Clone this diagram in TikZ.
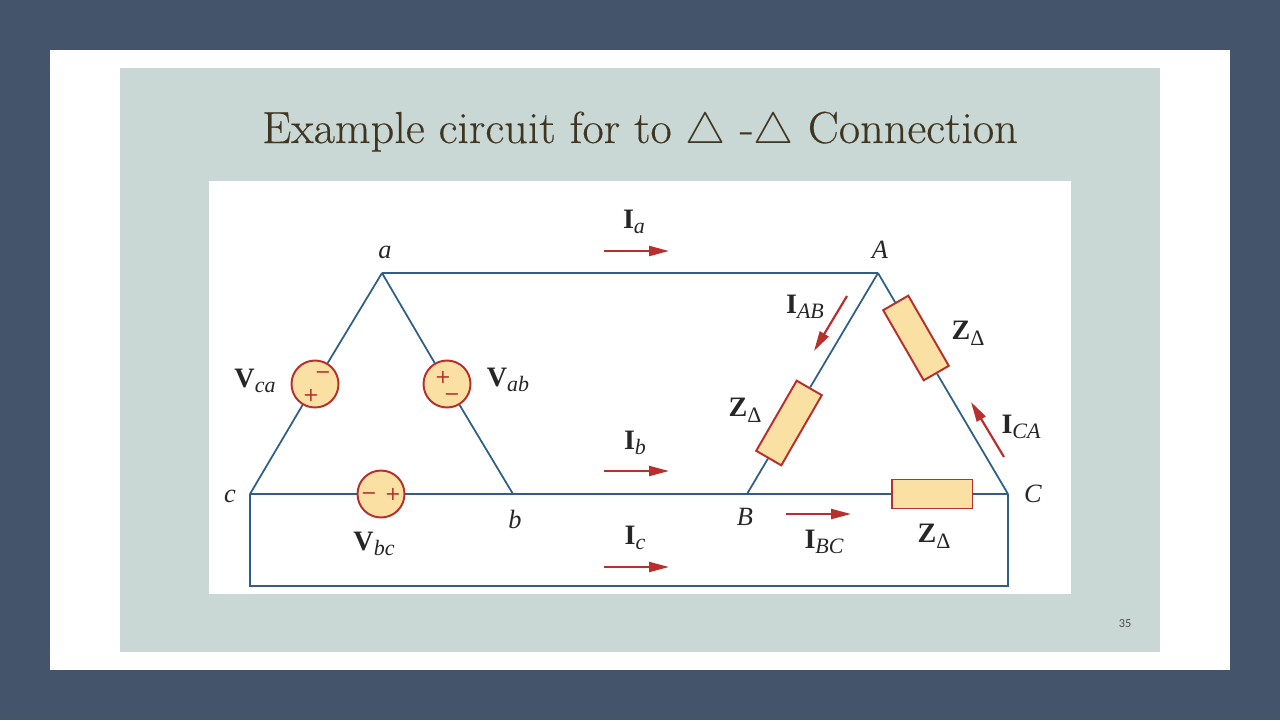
\documentclass[tikz,border=0pt]{standalone}
\usepackage{fontspec}
\usetikzlibrary{arrows.meta}
\newfontfamily\titlefont[FakeBold=0.3]{Latin Modern Roman}
\newfontfamily\labfont{Liberation Serif}
\newfontfamily\numfont{Carlito}
\newfontfamily\signfont{DejaVu Sans}
\definecolor{slide}{HTML}{44546A}
\definecolor{panel}{HTML}{C9D8D5}
\definecolor{titlecol}{HTML}{403520}
\definecolor{wire}{HTML}{2F5F85}
\definecolor{redcol}{HTML}{B8302E}
\definecolor{boxfill}{HTML}{FBE0A3}
\newcommand{\lab}[2]{{\fontsize{16}{16}\selectfont\bfseries #1}\raisebox{-.32em}{\fontsize{12.5}{12.5}\selectfont\itshape #2}}
\newcommand{\zlab}{{\fontsize{16}{16}\selectfont\bfseries Z}\raisebox{-.32em}{\fontsize{12.5}{12.5}\selectfont Δ}}
\tikzset{
    wireline/.style={draw=wire, line width=1pt},
    source/.style={circle, draw=redcol, fill=boxfill, line width=1.12pt, minimum size=.94cm, inner sep=0pt},
    imped/.style={rectangle, draw=redcol, fill=boxfill, line width=1.12pt, minimum width=1.62cm, minimum height=.58cm, inner sep=0pt},
    sign/.style={text=redcol, inner sep=0pt, font=\signfont\fontsize{11}{11}\selectfont},
    pin/.style={inner sep=0pt, text=black!85, font=\labfont\itshape\fontsize{15}{15}\selectfont},
    tag/.style={inner sep=0pt, text=black!85, font=\labfont},
    current/.style={draw=redcol, line width=1.25pt, -{Triangle[length=.4cm,width=.2cm]}}
}
\begin{document}
\begin{tikzpicture}[x=.02cm, y=-.02cm]
    \useasboundingbox (0,0) rectangle (1280,720);
    \fill[slide] (0,0) rectangle (1280,720);
    \fill[white] (50,50) rectangle (1230,670);
    \fill[panel] (120,68) rectangle (1160,652);
    \fill[white] (209,181) rectangle (1071,594);

    \node[anchor=base, inner sep=0pt, text=titlecol, font=\titlefont\fontsize{25.5}{30}\selectfont] (title) at (640,143) {\scalebox{1.033}[1]{Example circuit for to $\triangle$ -$\triangle$ Connection}};
    \node[text=black!70, font=\numfont\fontsize{7}{8}\selectfont] (pagenum) at (1125,624) {35};

    % junctions
    \coordinate (a) at (382,273);
    \coordinate (A) at (878,273);
    \coordinate (c) at (250,494);
    \coordinate (b) at (513,494);
    \coordinate (B) at (747,494);
    \coordinate (C) at (1008,494);
    \coordinate (cdown) at (250,586);
    \coordinate (Cdown) at (1008,586);

    \node[source] (Vca) at (315,384) {};
    \node[source] (Vab) at (447,384) {};
    \node[source] (Vbc) at (381,494) {};
    \node[imped, rotate=-60] (ZAC) at (916,338) {};
    \node[imped, rotate=60] (ZAB) at (789,423) {};
    \node[imped] (ZBC) at (932,494) {};

    \draw[wireline] (a) -- (A);
    \draw[wireline] (a) -- (Vca);
    \draw[wireline] (Vca) -- (c);
    \draw[wireline] (a) -- (Vab);
    \draw[wireline] (Vab) -- (b);
    \draw[wireline] (c) -- (Vbc);
    \draw[wireline] (Vbc) -- (B);
    \draw[wireline] (A) -- (ZAB);
    \draw[wireline] (ZAB) -- (B);
    \draw[wireline] (A) -- (ZAC);
    \draw[wireline] (ZAC) -- (C);
    \draw[wireline] (B) -- (ZBC);
    \draw[wireline] (ZBC) -- (C);
    \draw[wireline] (c) -- (cdown) -- (Cdown) -- (C);

    % source polarity
    \node[sign] (caplus) at (311,395) {+};
    \node[sign] (caminus) at (323,375.5) {−};
    \node[sign] (abplus) at (443,377) {+};
    \node[sign] (abminus) at (452,397) {−};
    \node[sign] (bcminus) at (369,496.5) {−};
    \node[sign] (bcplus) at (393,494) {+};

    % current arrows
    \foreach \name/\xa/\ya/\xb/\yb in {Ia/604/251/669/251, Ib/604/471/669/471, Ic/604/567/669/567, IBC/786/514/851/514, IAB/847/296/814/351, ICA/1004/457/971/402}
    {
        \coordinate (\name s) at (\xa,\ya);
        \coordinate (\name e) at (\xb,\yb);
        \draw[current] (\name s) -- (\name e);
    }

    \foreach \name/\x/\y in {a/385/252, A/880/250, c/230/496, b/515/519, B/745/517, C/1033/494}
    {
        \node[pin] (pin\name) at (\x,\y) {\name};
    }

    \node[tag] (labIa) at (634,222) {\lab{I}{a}};
    \node[tag] (labIb) at (635,443) {\lab{I}{b}};
    \node[tag] (labIc) at (635,538) {\lab{I}{c}};
    \node[tag] (labIAB) at (805,307) {\lab{I}{AB}};
    \node[tag] (labICA) at (1021,427) {\lab{I}{CA}};
    \node[tag] (labIBC) at (824,542) {\lab{I}{BC}};
    \node[tag] (labVca) at (255,381) {\lab{V}{ca}};
    \node[tag] (labVab) at (508,380) {\lab{V}{ab}};
    \node[tag] (labVbc) at (374,544) {\lab{V}{bc}};
    \node[tag] (labZac) at (968,333) {\zlab};
    \node[tag] (labZab) at (745,410) {\zlab};
    \node[tag] (labZbc) at (934,536) {\zlab};
\end{tikzpicture}
\end{document}
